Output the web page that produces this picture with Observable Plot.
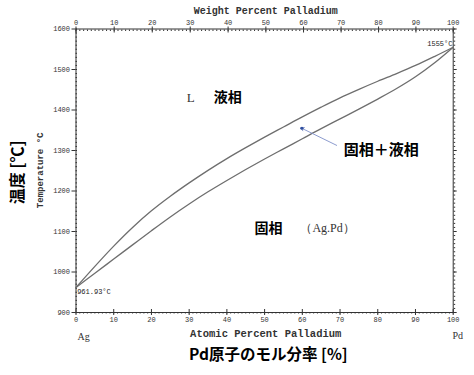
<!DOCTYPE html>
<html><head><meta charset="utf-8">
<script src="https://cdn.jsdelivr.net/npm/d3@7"></script>
<script src="https://cdn.jsdelivr.net/npm/@observablehq/plot@0.6"></script>
<style>
body{margin:0;background:#fff;}
#chart{position:relative;width:474px;height:375px;}
</style></head><body><div id="chart"></div>
<script>
// Composition, atomic % Pd
const atomicPct = [0,5,10,15,20,25,30,35,40,45,50,55,60,65,70,75,80,85,90,95,100];
// Liquidus temperature (°C)
const liquidus = [961.93,1014,1064,1110,1151,1187,1220,1251,1280,1307,1333,1358,1383,1407,1430,1451,1471,1490,1510,1532,1555];
// Solidus temperature (°C)
const solidus = [961.93,997,1032,1067,1102,1136,1168,1198,1226,1253,1279,1304,1329,1354,1378,1402,1427,1453,1482,1516,1555];
// Tick values
const atomicTicks = [0,10,20,30,40,50,60,70,80,90,100];
const weightTicks = [0,10,20,30,40,50,60,70,80,90,100];
const tempTicks = [900,1000,1100,1200,1300,1400,1500,1600];
// Texts
const topTitle = "Weight Percent Palladium";
const bottomTitle = "Atomic Percent Palladium";
const tempTitle = "Temperature °C";
const yTitleJa = "温度 [℃]";
const xTitleJa = "Pd原子のモル分率 [%]";
const leftElement = "Ag";
const rightElement = "Pd";
const meltAg = "961.93°C";
const meltPd = "1555°C";
const phaseLabels = ["L", "液相", "固相＋液相", "固相", "（Ag.Pd）"];

const MAg = 107.8682, MPd = 106.42;
const wToA = w => { const p = w / MPd, q = (100 - w) / MAg; return 100 * p / (p + q); };
const aToW = a => { const p = a * MPd, q = (100 - a) * MAg; return 100 * p / (p + q); };

const rows = [];
atomicPct.forEach((a, i) => rows.push({a, T: liquidus[i], line: "liquidus"}));
atomicPct.forEach((a, i) => rows.push({a, T: solidus[i], line: "solidus"}));

const mono = "'Liberation Mono', 'DejaVu Sans Mono', monospace";
const serif = "'Liberation Serif', 'DejaVu Serif', serif";
const ja = "'Noto Sans CJK JP', 'Noto Sans', sans-serif";
const axisColor = "#333";
const blank = () => "";
const plain = d => `${d}`;

const chart = Plot.plot({
  width: 474,
  height: 375,
  marginLeft: 75.5,
  marginRight: 21.3,
  marginTop: 28.5,
  marginBottom: 63,
  style: {background: "transparent", fontFamily: mono, fontSize: "7px", color: axisColor},
  x: {domain: [0, 100]},
  y: {domain: [900, 1600]},
  marks: [
    Plot.frame({stroke: axisColor, strokeWidth: 1}),
    // bottom axis
    Plot.axisX({anchor: "bottom", ticks: atomicTicks, tickSize: 3, tickPadding: 2, tickFormat: plain, label: null}),
    Plot.axisX({anchor: "bottom", ticks: d3.range(0, 101, 1), tickSize: 1.5, tickFormat: blank, label: null}),
    Plot.axisX({anchor: "bottom", ticks: atomicTicks, tickSize: -3, tickFormat: blank, label: null}),
    // top axis (weight percent)
    Plot.axisX({anchor: "top", ticks: weightTicks.map(wToA), tickSize: 3, tickPadding: 1, tickFormat: d => `${Math.round(aToW(d))}`, label: null}),
    Plot.axisX({anchor: "top", ticks: d3.range(0, 101, 1).map(wToA), tickSize: -1.5, tickFormat: blank, label: null}),
    Plot.axisX({anchor: "top", ticks: weightTicks.map(wToA), tickSize: -3, tickFormat: blank, label: null}),
    // left axis
    Plot.axisY({anchor: "left", ticks: tempTicks, tickSize: 4, tickPadding: 2, tickFormat: plain, label: null}),
    Plot.axisY({anchor: "left", ticks: d3.range(900, 1601, 10), tickSize: -1.5, tickFormat: blank, label: null}),
    // right axis
    Plot.axisY({anchor: "right", ticks: tempTicks, tickSize: 3, tickFormat: blank, label: null}),
    Plot.axisY({anchor: "right", ticks: d3.range(900, 1601, 10), tickSize: 1.5, tickFormat: blank, label: null}),
    // curves
    Plot.line(rows, {x: "a", y: "T", z: "line", stroke: "#6e6e6e", strokeWidth: 1.3, curve: "catmull-rom"}),
    // arrow
    Plot.arrow([0], {x1: 69.1, y1: 1312.7, x2: 59.6, y2: 1356, stroke: "#7f90c8", strokeWidth: 0.9, headLength: 6, bend: 0}),
    Plot.dot([0], {x: 59.9, y: 1355, r: 1.6, fill: "#2f4f9f", stroke: "none"}),
    // phase labels
    Plot.text([phaseLabels[0]], {x: 30.4, y: 1431, text: d => d, fontFamily: serif, fontSize: 13, fill: "#333"}),
    Plot.text([phaseLabels[1]], {x: 36.5, y: 1431, text: d => d, textAnchor: "start", fontFamily: ja, fontWeight: "bold", fontSize: 14, fill: "#000"}),
    Plot.text([phaseLabels[2]], {x: 71.0, y: 1300, text: d => d, textAnchor: "start", fontFamily: ja, fontWeight: "bold", fontSize: 15, fill: "#000"}),
    Plot.text([phaseLabels[3]], {x: 47.3, y: 1108, text: d => d, textAnchor: "start", fontFamily: ja, fontWeight: "bold", fontSize: 14, fill: "#000"}),
    Plot.text([phaseLabels[4]], {x: 59.5, y: 1108, text: d => d, textAnchor: "start", fontFamily: serif, fontSize: 12, fill: "#333"}),
    // melting points
    Plot.text([meltAg], {x: 0.3, y: 952, text: d => d, textAnchor: "start", fontFamily: mono, fontSize: 7, fill: "#222"}),
    Plot.text([meltPd], {x: 99.8, y: 1564, text: d => d, textAnchor: "end", fontFamily: mono, fontSize: 7, fill: "#222"}),
    // axis titles (original)
    Plot.text([topTitle], {x: 50.3, y: 1646, text: d => d, fontFamily: mono, fontWeight: "bold", fontSize: 10, fill: "#333"}),
    Plot.text([bottomTitle], {x: 50.3, y: 848, text: d => d, fontFamily: mono, fontWeight: "bold", fontSize: 10.5, fill: "#333"}),
    Plot.text([tempTitle], {x: -9.4, y: 1251, text: d => d, rotate: -90, fontFamily: mono, fontWeight: "bold", fontSize: 9, fill: "#333"}),
    Plot.text([leftElement], {x: 2, y: 841, text: d => d, fontFamily: serif, fontSize: 10, fill: "#333"}),
    Plot.text([rightElement], {x: 101.2, y: 843, text: d => d, fontFamily: serif, fontSize: 10, fill: "#333"}),
    // Japanese titles
    Plot.text([xTitleJa], {x: 51, y: 794, text: d => d, fontFamily: ja, fontWeight: "bold", fontSize: 15.5, fill: "#000"}),
    Plot.text([yTitleJa], {x: -15.5, y: 1246, text: d => d, rotate: -90, fontFamily: ja, fontWeight: "bold", fontSize: 16, fill: "#000"})
  ]
});
document.getElementById("chart").appendChild(chart);
</script>
</body></html>
